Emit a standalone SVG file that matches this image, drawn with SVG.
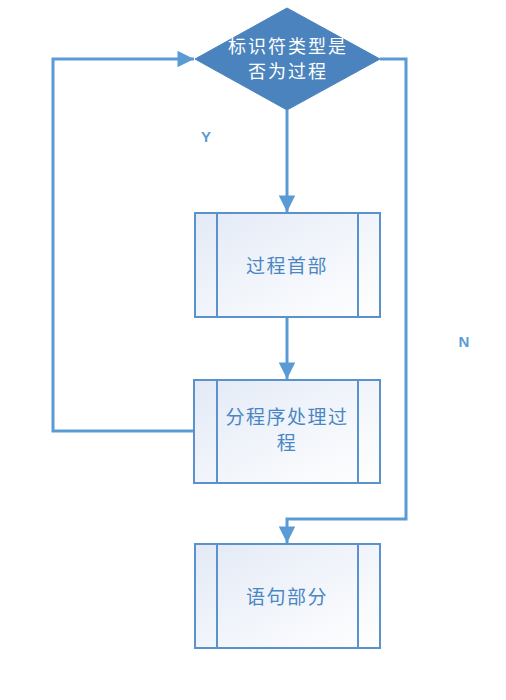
<svg xmlns="http://www.w3.org/2000/svg" width="506" height="700" viewBox="0 0 506 700">
<defs>
<linearGradient id="boxfill" x1="0" y1="0" x2="1" y2="1">
<stop offset="0" stop-color="#e3eaf6"/>
<stop offset="1" stop-color="#ffffff"/>
</linearGradient>
<marker id="arrow" viewBox="0 0 10 10" refX="10" refY="5" markerWidth="6" markerHeight="5.5" markerUnits="strokeWidth" orient="auto">
<path d="M0,0 L10,5 L0,10 z" fill="#5b9bd5"/>
</marker>
<style>
.conn{fill:none;stroke:#5b9bd5;stroke-width:3}
.box{fill:url(#boxfill);stroke:#5b92cc;stroke-width:2}
.inner{stroke:#5b92cc;stroke-width:2}
.lbl{font-family:"Noto Sans CJK SC","Liberation Sans",sans-serif;font-size:19px;fill:#4a86c4;text-anchor:middle;letter-spacing:1.5px}
.dlbl{font-family:"Noto Sans CJK SC","Liberation Sans",sans-serif;font-size:18px;fill:#ffffff;text-anchor:middle;letter-spacing:2px}
.yn{font-family:"Liberation Sans",Arial,sans-serif;font-size:15px;font-weight:bold;fill:#5b9bd5;text-anchor:middle}
</style>
</defs>
<rect width="506" height="700" fill="#ffffff"/>
<g id="connectors">
<path class="conn" d="M287,110 L287,212" marker-end="url(#arrow)"/>
<path class="conn" d="M287,317 L287,379" marker-end="url(#arrow)"/>
<path class="conn" d="M194,431 L53,431 L53,59 L194,59" marker-end="url(#arrow)"/>
<path class="conn" d="M380,59 L406,59 L406,519 L287,519 L287,543" marker-end="url(#arrow)"/>
<text class="yn" x="206" y="142">Y</text>
<text class="yn" x="464" y="347">N</text>
</g>
<g id="decision">
<polygon points="287,8 380,59 287,110 195,59" fill="#4a83bd" stroke="#4a83bd" stroke-width="1"/>
<text class="dlbl" x="288" y="53">标识符类型是</text>
<text class="dlbl" x="288" y="78">否为过程</text>
</g>
<g id="proc-header">
<rect class="box" x="195" y="213" width="185" height="104"/>
<line class="inner" x1="217" y1="213" x2="217" y2="317"/>
<line class="inner" x1="358" y1="213" x2="358" y2="317"/>
<text class="lbl" x="287" y="273">过程首部</text>
</g>
<g id="subprogram">
<rect class="box" x="194" y="380" width="186" height="103"/>
<line class="inner" x1="217" y1="380" x2="217" y2="483"/>
<line class="inner" x1="358" y1="380" x2="358" y2="483"/>
<text class="lbl" x="287" y="424">分程序处理过</text>
<text class="lbl" x="287" y="450">程</text>
</g>
<g id="statements">
<rect class="box" x="195" y="544" width="185" height="104"/>
<line class="inner" x1="217" y1="544" x2="217" y2="648"/>
<line class="inner" x1="358" y1="544" x2="358" y2="648"/>
<text class="lbl" x="287" y="604">语句部分</text>
</g>
</svg>
